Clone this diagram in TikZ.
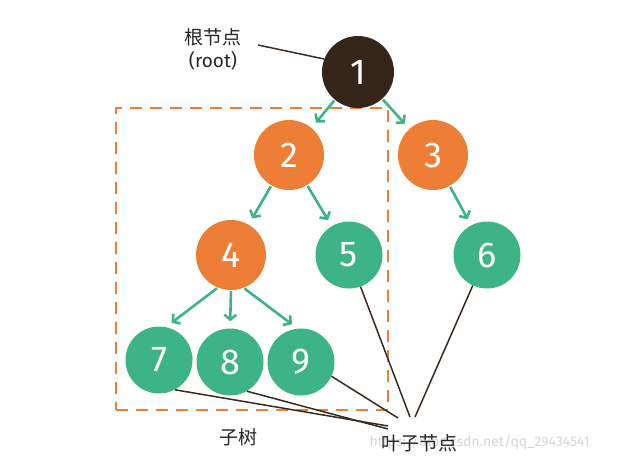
\documentclass[tikz,border=0pt]{standalone}
\usepackage{fontspec}
\setmainfont{Fira Sans}
\newfontfamily\cjk{Noto Sans CJK SC}
\usetikzlibrary{arrows.meta}
\definecolor{rootc}{HTML}{36261A}
\definecolor{orng}{HTML}{EE7D35}
\definecolor{grn}{HTML}{3DB487}
\definecolor{lnc}{HTML}{3A2A20}
\definecolor{wm}{HTML}{D6D6D6}
\tikzset{
  tnode/.style={circle,minimum size=#1,inner sep=0pt,text=white,font=\fontsize{36}{36}\selectfont},
  rootnode/.style={tnode=72pt,fill=rootc},
  innode/.style={tnode=70pt,fill=orng},
  leafnode/.style={tnode=67pt,fill=grn},
  arr/.style={draw=grn,line width=2.6pt,-{Straight Barb[length=5pt,width=12pt]},shorten >=7pt,shorten <=1pt},
  pointer/.style={draw=lnc,line width=1.5pt},
  subtreebox/.style={draw=orng,line width=2.6pt,dash pattern=on 12pt off 8pt,minimum width=272pt,minimum height=302pt,inner sep=0pt},
  lbl/.style={font=\cjk\fontsize{19}{19}\selectfont,text=black!85}
}
\begin{document}
\begin{tikzpicture}[x=1pt,y=-1pt]
\useasboundingbox[fill=white] (0,0) rectangle (626,461);
% subtree frame
\node[subtreebox] (sub) at (252,259) {};
% watermark
\node[font=\fontsize{14}{14}\selectfont,text=wm,anchor=west] (wmark) at (366,442) {https://blog.csdn.net/qq\_29434541};
% nodes
\node[rootnode] (n1) at (358,72) {1};
\node[innode] (n2) at (289,155) {2};
\node[innode] (n3) at (433,155) {3};
\node[innode] (n4) at (231,255) {4};
\node[leafnode] (n5) at (349,255) {5};
\node[leafnode] (n6) at (487,255) {6};
\node[leafnode] (n7) at (159,360) {7};
\node[leafnode] (n8) at (230,362) {8};
\node[leafnode] (n9) at (301,362) {9};
% arrows
\draw[arr] (n1) -- (n2);
\draw[arr] (n1) -- (n3);
\draw[arr] (n2) -- (n4);
\draw[arr] (n2) -- (n5);
\draw[arr] (n3) -- (n6);
\draw[arr] (n4.-112) -- (n7.78);
\draw[arr] (n4.-90) -- (n8.90);
\draw[arr] (n4.-69) -- (n9.96);
% labels
\node[lbl,align=center] (rootlbl) at (213,37) {根节点};
\node[font=\fontsize{19}{19}\selectfont,text=black!85] (rootlbl2) at (213,61) {(root)};
\coordinate (rootptr) at (258,45);
\draw[pointer] (rootptr) -- (n1.159);
\node[lbl] (sublbl) at (238,437) {子树};
\node[lbl] (leaflbl) at (419,443) {叶子节点};
% leaf pointers
\coordinate (leafA) at (388,426);
\coordinate (leafB) at (398,418);
\coordinate (leafC) at (410,417);
\coordinate (leafD) at (415,417);
\draw[pointer] (n7.-62) -- (leafA);
\draw[pointer] (n8.-60) -- ([yshift=-3pt]leafA);
\draw[pointer] (n9.-25) -- (leafB);
\draw[pointer] (n5.-70) -- (leafC);
\draw[pointer] (n6.-115) -- (leafD);
\end{tikzpicture}
\end{document}
